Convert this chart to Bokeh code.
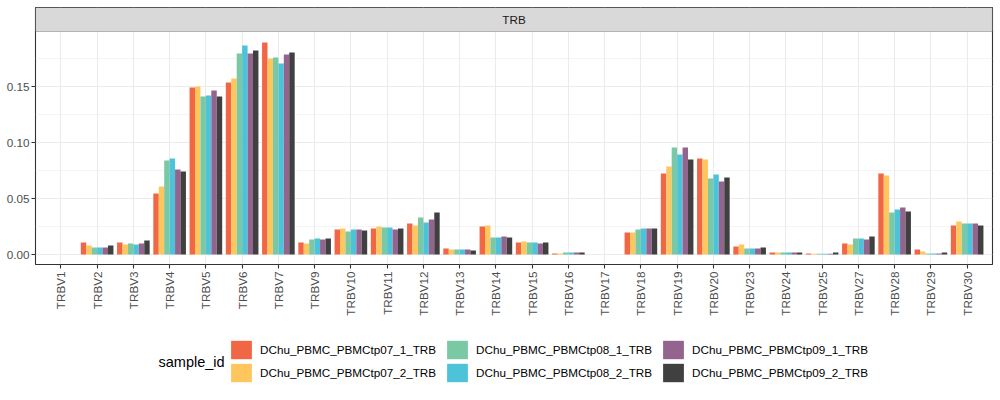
import math
from bokeh.plotting import figure
from bokeh.layouts import column
from bokeh.models import (ColumnDataSource, FactorRange, Range1d, FixedTicker, Legend,
                          LegendItem, BoxAnnotation, Label, NumeralTickFormatter)
from bokeh.transform import dodge
from bokeh.embed import file_html
from bokeh.resources import INLINE

genes = ["TRBV1", "TRBV2", "TRBV3", "TRBV4", "TRBV5", "TRBV6", "TRBV7", "TRBV9",
         "TRBV10", "TRBV11", "TRBV12", "TRBV13", "TRBV14", "TRBV15", "TRBV16",
         "TRBV17", "TRBV18", "TRBV19", "TRBV20", "TRBV23", "TRBV24", "TRBV25",
         "TRBV27", "TRBV28", "TRBV29", "TRBV30"]

samples = ["DChu_PBMC_PBMCtp07_1_TRB", "DChu_PBMC_PBMCtp07_2_TRB",
           "DChu_PBMC_PBMCtp08_1_TRB", "DChu_PBMC_PBMCtp08_2_TRB",
           "DChu_PBMC_PBMCtp09_1_TRB", "DChu_PBMC_PBMCtp09_2_TRB"]

colors = ["#F16745", "#FFC65D", "#7BC8A4", "#4CC3D9", "#93648D", "#404040"]

tp07_1 = [0.0, 0.0107, 0.0107, 0.0546, 0.1494, 0.1538, 0.1896, 0.0107, 0.0224, 0.0233,
          0.0277, 0.0054, 0.0250, 0.0107, 0.0009, 0.0, 0.0197, 0.0724, 0.0859, 0.0072,
          0.0018, 0.0009, 0.0098, 0.0724, 0.0045, 0.0259]
tp07_2 = [0.0, 0.0080, 0.0089, 0.0608, 0.1503, 0.1574, 0.1753, 0.0098, 0.0233, 0.0250,
          0.0259, 0.0045, 0.0259, 0.0116, 0.0009, 0.0, 0.0197, 0.0787, 0.0850, 0.0089,
          0.0018, 0.0006, 0.0089, 0.0707, 0.0027, 0.0295]
tp08_1 = [0.0, 0.0063, 0.0098, 0.0841, 0.1413, 0.1798, 0.1762, 0.0134, 0.0206, 0.0242,
          0.0331, 0.0045, 0.0152, 0.0107, 0.0018, 0.0, 0.0224, 0.0957, 0.0680, 0.0054,
          0.0018, 0.0006, 0.0143, 0.0376, 0.0009, 0.0277]
tp08_2 = [0.0, 0.0063, 0.0089, 0.0859, 0.1422, 0.1869, 0.1708, 0.0143, 0.0224, 0.0242,
          0.0286, 0.0045, 0.0152, 0.0107, 0.0018, 0.0, 0.0233, 0.0894, 0.0716, 0.0054,
          0.0018, 0.0006, 0.0143, 0.0402, 0.0009, 0.0277]
tp09_1 = [0.0, 0.0063, 0.0098, 0.0760, 0.1467, 0.1798, 0.1789, 0.0134, 0.0224, 0.0224,
          0.0313, 0.0045, 0.0161, 0.0098, 0.0018, 0.0, 0.0233, 0.0957, 0.0653, 0.0054,
          0.0018, 0.0006, 0.0134, 0.0420, 0.0009, 0.0277]
tp09_2 = [0.0, 0.0080, 0.0125, 0.0742, 0.1413, 0.1825, 0.1807, 0.0143, 0.0215, 0.0233,
          0.0376, 0.0036, 0.0152, 0.0107, 0.0018, 0.0, 0.0233, 0.0850, 0.0689, 0.0063,
          0.0018, 0.0018, 0.0161, 0.0385, 0.0018, 0.0259]

series = [tp07_1, tp07_2, tp08_1, tp08_2, tp09_1, tp09_2]
y_ticks = [0.0, 0.05, 0.10, 0.15]
y_minor = [0.025, 0.075, 0.125, 0.175]

FONT = "Liberation Sans"
y_start, y_end = -0.00894, 0.22093
strip_bottom = 0.19946
dodge_width = 0.9
bar_w = dodge_width / len(samples)

x_range = FactorRange(factors=genes, range_padding=0.2, range_padding_units="absolute")
p = figure(x_range=x_range, y_range=Range1d(y_start, y_end),
           frame_width=957, frame_height=257,
           min_border_left=35, min_border_right=8, min_border_top=7, min_border_bottom=66,
           output_backend="svg", toolbar_location=None)
p.background_fill_color = "white"
p.border_fill_color = "white"
p.outline_line_color = "#333333"
p.outline_line_width = 1.1

data = {"gene": genes}
for name, vals in zip(samples, series):
    data[name] = vals
source = ColumnDataSource(data)

for k, name in enumerate(samples):
    off = -dodge_width / 2 + bar_w * (k + 0.5)
    p.vbar(x=dodge("gene", off, range=p.x_range), top=name, bottom=0, width=bar_w,
           source=source, fill_color=colors[k], line_color=None)

# grid
p.xgrid.grid_line_color = "#EBEBEB"
p.xgrid.grid_line_width = 1.1
p.ygrid.grid_line_color = "#EBEBEB"
p.ygrid.grid_line_width = 1.1
p.ygrid.minor_grid_line_color = "#EBEBEB"
p.ygrid.minor_grid_line_width = 0.55

# axes
p.yaxis.ticker = FixedTicker(ticks=y_ticks, minor_ticks=y_minor)
p.yaxis.formatter = NumeralTickFormatter(format="0.00")
for ax in (p.xaxis[0], p.yaxis[0]):
    ax.axis_line_color = None
    ax.major_tick_line_color = "#333333"
    ax.major_tick_line_width = 1.1
    ax.major_tick_in = 0
    ax.major_tick_out = 4
    ax.minor_tick_line_color = None
    ax.major_label_text_font = FONT
    ax.major_label_text_font_size = "11.7px"
    ax.major_label_text_color = "#4D4D4D"
p.yaxis.major_label_standoff = 2
p.xaxis.major_label_standoff = 3
p.xaxis.major_label_orientation = math.pi / 2

# facet strip
strip = BoxAnnotation(bottom=strip_bottom, fill_color="#D9D9D9", fill_alpha=1.0,
                      line_color="#333333", line_width=1.1)
p.add_layout(strip)
p.add_layout(Label(x=len(genes) / 2, y=(strip_bottom + y_end) / 2, text="TRB",
                   text_align="center", text_baseline="middle", text_font=FONT,
                   text_font_size="11.7px", text_color="#1A1A1A"))

# legend panel (separate figure below the main one; its frame aligns with the main frame)
lg = figure(x_range=Range1d(35, 992), y_range=Range1d(0, 70), width=1000, height=70,
            min_border_left=35, min_border_right=8, min_border_top=0, min_border_bottom=0,
            x_axis_location=None, y_axis_location=None,
            output_backend="svg", toolbar_location=None)
lg.grid.visible = False
lg.outline_line_color = None
lg.background_fill_color = "white"
lg.border_fill_color = "white"

items = []
for k, name in enumerate(samples):
    # key-only renderer placed far outside the visible range
    r = lg.vbar(x=[-10000], top=[-1000], bottom=-1001, width=1,
                fill_color=colors[k], line_color=None)
    items.append(LegendItem(label=name, renderers=[r]))

legend = Legend(items=items, orientation="vertical", nrows=2, location=(193, 16),
                glyph_width=26, glyph_height=23, label_height=23, label_width=184,
                label_standoff=6, spacing=0, padding=0, margin=0,
                label_text_font=FONT, label_text_font_size="11.7px",
                label_text_color="black", border_line_color=None,
                background_fill_alpha=0)
lg.add_layout(legend, "center")
lg.add_layout(Label(x=158, y=39, text="sample_id", text_align="left",
                    text_baseline="middle", text_font=FONT,
                    text_font_size="14.5px", text_color="black"))

layout = column(p, lg, spacing=0)
open("out.html", "w").write(file_html(layout, INLINE))
